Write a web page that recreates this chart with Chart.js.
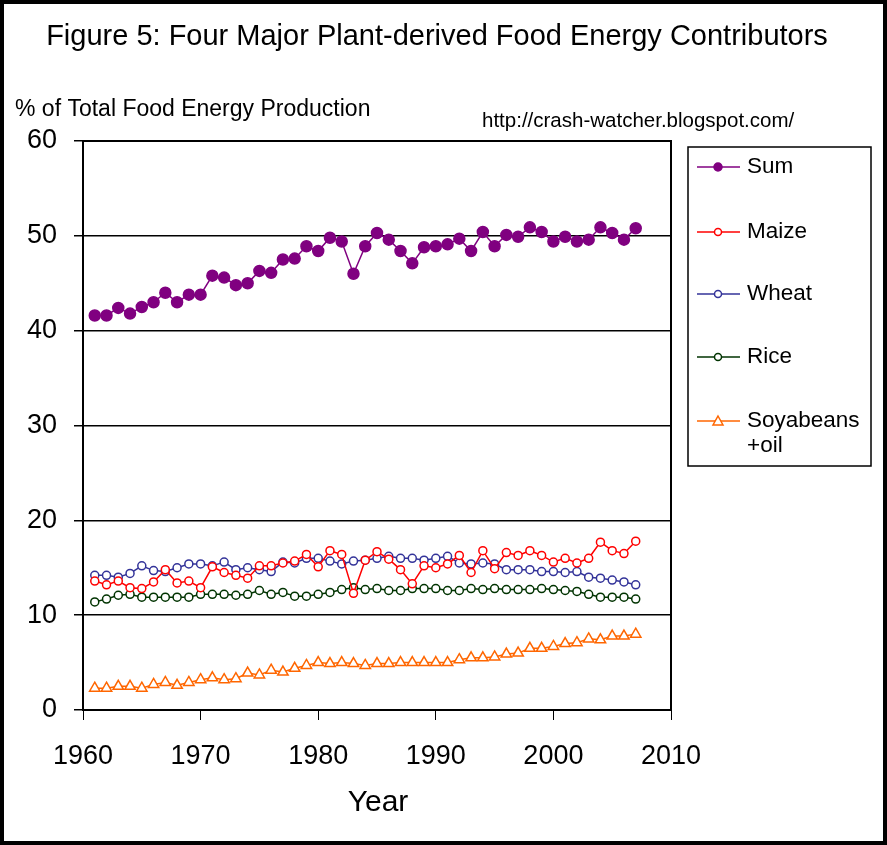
<!DOCTYPE html>
<html>
<head>
<meta charset="utf-8">
<script src="https://cdn.jsdelivr.net/npm/chart.js@4.4.1/dist/chart.umd.min.js"></script>
<style>
  html, body { margin: 0; padding: 0; background: #fff; }
  #wrap { width: 887px; height: 845px; }
</style>
</head>
<body>
<div id="wrap"><canvas id="foodChart" width="887" height="845"></canvas></div>
<script>
// years 1961 - 2007
const years = [1961, 1962, 1963, 1964, 1965, 1966, 1967, 1968, 1969, 1970,
    1971, 1972, 1973, 1974, 1975, 1976, 1977, 1978, 1979, 1980,
    1981, 1982, 1983, 1984, 1985, 1986, 1987, 1988, 1989, 1990,
    1991, 1992, 1993, 1994, 1995, 1996, 1997, 1998, 1999, 2000,
    2001, 2002, 2003, 2004, 2005, 2006, 2007];

const sumVals = [41.6, 41.6, 42.4, 41.8, 42.5, 43.0, 44.0, 43.0, 43.8, 43.8,
    45.8, 45.6, 44.8, 45.0, 46.3, 46.1, 47.5, 47.6, 48.9, 48.4,
    49.8, 49.4, 46.0, 48.9, 50.3, 49.6, 48.4, 47.1, 48.8, 48.9,
    49.1, 49.7, 48.4, 50.4, 48.9, 50.1, 49.9, 50.9, 50.4, 49.4,
    49.9, 49.4, 49.6, 50.9, 50.3, 49.6, 50.8];

const maizeVals = [13.6, 13.2, 13.6, 12.9, 12.8, 13.5, 14.8, 13.4, 13.6, 12.9,
    15.1, 14.5, 14.2, 13.9, 15.2, 15.2, 15.5, 15.7, 16.4, 15.1,
    16.8, 16.4, 12.3, 15.8, 16.7, 15.9, 14.8, 13.3, 15.2, 15.0,
    15.4, 16.3, 14.5, 16.8, 14.9, 16.6, 16.3, 16.8, 16.3, 15.6,
    16.0, 15.5, 16.0, 17.7, 16.8, 16.5, 17.8];

const wheatVals = [14.2, 14.2, 14.0, 14.4, 15.2, 14.7, 14.6, 15.0, 15.4, 15.4,
    15.2, 15.6, 14.8, 15.0, 14.8, 14.6, 15.6, 15.5, 16.0, 16.0,
    15.7, 15.4, 15.7, 15.8, 16.0, 16.2, 16.0, 16.0, 15.8, 16.0,
    16.2, 15.5, 15.4, 15.5, 15.4, 14.8, 14.8, 14.8, 14.6, 14.6,
    14.5, 14.6, 14.0, 13.9, 13.7, 13.5, 13.2];

const riceVals = [11.4, 11.7, 12.1, 12.2, 11.9, 11.9, 11.9, 11.9, 11.9, 12.2,
    12.2, 12.2, 12.1, 12.2, 12.6, 12.2, 12.4, 12.0, 12.0, 12.2,
    12.4, 12.7, 12.9, 12.7, 12.8, 12.6, 12.6, 12.8, 12.8, 12.8,
    12.6, 12.6, 12.8, 12.7, 12.8, 12.7, 12.7, 12.7, 12.8, 12.7,
    12.6, 12.5, 12.2, 11.9, 11.9, 11.9, 11.7];

const soyVals = [2.3, 2.3, 2.5, 2.5, 2.3, 2.7, 2.9, 2.6, 2.9, 3.2,
    3.4, 3.2, 3.3, 3.9, 3.7, 4.2, 4.0, 4.4, 4.7, 5.0,
    4.9, 5.0, 4.9, 4.7, 4.9, 4.9, 5.0, 5.0, 5.0, 5.0,
    5.0, 5.3, 5.5, 5.5, 5.6, 5.9, 6.0, 6.5, 6.5, 6.7,
    7.0, 7.1, 7.5, 7.4, 7.8, 7.8, 8.0];

const xTicks = [1960, 1970, 1980, 1990, 2000, 2010];
const yTicks = [0, 10, 20, 30, 40, 50, 60];

const FONT = "'Liberation Sans', Arial, sans-serif";

function pts(vals) {
    return years.map((yr, i) => ({ x: yr, y: vals[i] }));
}

function series(label, vals, color, opts) {
    return Object.assign({
        label: label,
        data: pts(vals),
        borderColor: color,
        borderWidth: 1.5,
        pointBorderColor: color,
        pointBackgroundColor: '#ffffff',
        pointBorderWidth: 1.5,
        pointRadius: 4,
        pointStyle: 'circle',
        tension: 0,
        fill: false
    }, opts || {});
}

// legend, frame and loose texts
const extras = {
    id: 'extras',
    afterDraw(chart) {
        const ctx = chart.ctx;
        const a = chart.chartArea;
        ctx.save();
        // plot frame
        ctx.strokeStyle = '#000';
        ctx.lineWidth = 2;
        ctx.strokeRect(a.left, a.top, a.right - a.left, a.bottom - a.top);
        // outer frame
        ctx.lineWidth = 4;
        ctx.strokeRect(2, 2, chart.width - 4, chart.height - 4);

        ctx.fillStyle = '#000';
        ctx.textBaseline = 'middle';
        ctx.textAlign = 'center';
        ctx.font = '29px ' + FONT;
        ctx.fillText('Figure 5: Four Major Plant-derived Food Energy Contributors', 437, 37);
        ctx.font = '30px ' + FONT;
        ctx.fillText('Year', 378, 803);

        ctx.textAlign = 'left';
        ctx.font = '23px ' + FONT;
        ctx.fillText('% of Total Food Energy Production', 15, 110);
        ctx.font = '20.5px ' + FONT;
        ctx.fillText('http://crash-watcher.blogspot.com/', 482, 121);

        // legend box
        ctx.lineWidth = 1.5;
        ctx.strokeRect(688, 147, 183, 319);
        const rows = [167, 232, 294, 357, 421];
        ctx.font = '22.5px ' + FONT;
        chart.data.datasets.forEach((ds, i) => {
            const y = rows[i];
            ctx.strokeStyle = ds.borderColor;
            ctx.lineWidth = 1.5;
            ctx.beginPath();
            ctx.moveTo(697, y);
            ctx.lineTo(740, y);
            ctx.stroke();
            ctx.fillStyle = ds.pointBackgroundColor;
            ctx.beginPath();
            if (ds.pointStyle === 'triangle') {
                ctx.moveTo(718, y - 5);
                ctx.lineTo(723, y + 4);
                ctx.lineTo(713, y + 4);
                ctx.closePath();
            } else {
                ctx.arc(718, y, i === 0 ? 4 : 3.5, 0, Math.PI * 2);
            }
            ctx.fill();
            ctx.stroke();
            ctx.fillStyle = '#000';
            const lines = ds.label.split('\n');
            lines.forEach((t, k) => ctx.fillText(t, 747, y + k * 25));
        });
        ctx.restore();
    }
};

new Chart(document.getElementById('foodChart'), {
    type: 'line',
    data: {
        datasets: [
            series('Sum', sumVals, '#800080', { pointBackgroundColor: '#800080', pointRadius: 5.5 }),
            series('Maize', maizeVals, '#ff0000'),
            series('Wheat', wheatVals, '#333399'),
            series('Rice', riceVals, '#003300'),
            series('Soyabeans\n+oil', soyVals, '#ff6600', { pointStyle: 'triangle', pointRadius: 6 })
        ]
    },
    options: {
        responsive: false,
        devicePixelRatio: 1,
        animation: false,
        layout: { padding: { left: 0, right: 216, top: 141, bottom: 0 } },
        plugins: {
            legend: { display: false },
            tooltip: { enabled: false }
        },
        scales: {
            x: {
                type: 'linear',
                min: 1960,
                max: 2010,
                afterBuildTicks: (s) => { s.ticks = xTicks.map(v => ({ value: v })); },
                afterFit: (s) => { s.height = 135; },
                ticks: {
                    color: '#000', font: { family: FONT, size: 27 }, padding: 20, maxRotation: 0,
                    callback: (v) => String(v)
                },
                grid: { drawOnChartArea: false, drawTicks: true, tickLength: 10, color: '#000', lineWidth: 1 },
                border: { display: true, color: '#000', width: 2 }
            },
            y: {
                min: 0,
                max: 60,
                afterBuildTicks: (s) => { s.ticks = yTicks.map(v => ({ value: v })); },
                afterFit: (s) => { s.width = 83; },
                ticks: { color: '#000', font: { family: FONT, size: 27 }, padding: 17 },
                grid: { color: '#000', lineWidth: 1.5, tickLength: 9 },
                border: { display: true, color: '#000', width: 2 }
            }
        }
    },
    plugins: [extras]
});
</script>
</body>
</html>
